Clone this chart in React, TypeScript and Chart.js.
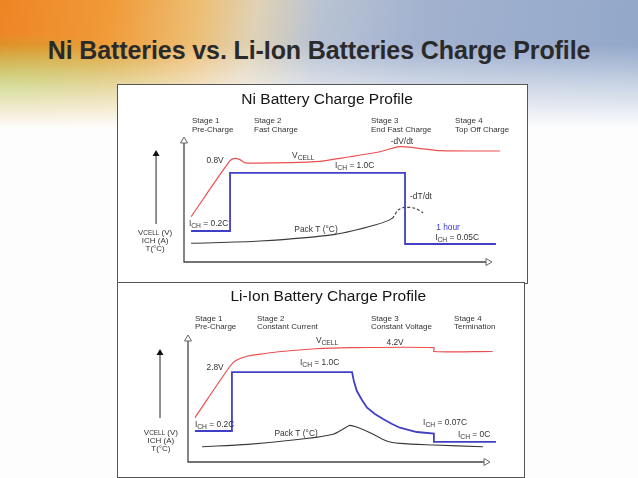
import React, { useEffect, useRef } from "react";
import { Chart, registerables } from "chart.js";

Chart.register(...registerables);

const FONT = '"Liberation Sans", Arial, Helvetica, sans-serif';

// ---------- data (x: charge time in % of axis length, y: level in % of axis height) ----------
// Ni battery
const niVcellX = [2.3, 15.0, 16.6, 18.2, 19.9, 24.8, 42.7, 54.1, 63.8, 67.8, 70.4, 75.9, 83.4, 102.9];
const niVcellY = [36.5, 81.7, 83.6, 82.6, 80.0, 79.8, 80.9, 84.9, 88.9, 91.7, 93.0, 91.9, 89.8, 89.5];
const niIchX = [2.3, 15.0, 15.0, 72.0, 72.0, 101.6];
const niIchY = [25.0, 25.0, 71.8, 71.8, 14.5, 14.5];
const niTempX = [2.3, 24.8, 49.2, 62.2, 67.8, 69.7, 72.0, 75.2, 77.9];
const niTempY = [15.1, 16.9, 22.3, 29.8, 35.2, 41.9, 44.1, 43.3, 39.8];
const niStageNames = ["Stage 1", "Stage 2", "Stage 3", "Stage 4"];
const niStageDesc = ["Pre-Charge", "Fast Charge", "End Fast Charge", "Top Off Charge"];
const niStageStart = [2.6, 22.8, 60.9, 88.3];

// Li-Ion battery
const liVcellX = [2.3, 14.0, 15.9, 19.9, 25.6, 31.2, 42.2, 53.8, 81.7, 81.7, 101.2];
const liVcellY = [35.2, 76.2, 80.6, 84.1, 86.1, 87.7, 89.9, 90.7, 90.7, 87.7, 87.7];
const liIchX = [2.3, 14.6, 14.6, 54.5, 55.1, 56.1, 57.8, 59.5, 62.1, 64.8, 67.8, 70.4, 76.0, 81.7, 81.7, 102.3];
const liIchY = [24.6, 24.6, 71.4, 71.4, 64.3, 56.3, 49.2, 43.1, 38.1, 34.1, 30.2, 27.2, 23.8, 22.6, 15.9, 15.9];
const liTempX = [4.7, 19.9, 37.2, 48.2, 52.7, 53.8, 56.0, 60.5, 66.0, 70.4, 81.4, 98.0];
const liTempY = [12.1, 14.0, 18.0, 22.0, 27.8, 29.1, 27.8, 23.3, 16.7, 14.8, 13.5, 12.1];
const liStageNames = ["Stage 1", "Stage 2", "Stage 3", "Stage 4"];
const liStageDesc = ["Pre-Charge", "Constant Current", "Constant Voltage", "Termination"];
const liStageStart = [2.3, 22.9, 60.8, 88.4];

const RED = "#ec4f4f";
const BLUE = "#4040c6";
const DARK = "#3a3a3a";
const TEXT = "#333333";

type Ann = {
  text: string;
  x: number;
  y: number;
  align?: CanvasTextAlign;
  size?: number;
  color?: string;
  subDrop?: number;
};

type Spec = {
  title: string;
  vx: number[];
  vy: number[];
  ix: number[];
  iy: number[];
  tx: number[];
  ty: number[];
  tempDashFrom: number;
  stageNames: string[];
  stageDesc: string[];
  stageStart: number[];
  anns: Ann[];
  arrowX: number;
  arrowY0: number;
  arrowY1: number;
  padding: { left: number; top: number; right: number; bottom: number };
  width: number;
  height: number;
};

const niSpec: Spec = {
  title: "Ni Battery Charge Profile",
  vx: niVcellX, vy: niVcellY, ix: niIchX, iy: niIchY, tx: niTempX, ty: niTempY,
  tempDashFrom: 4,
  stageNames: niStageNames, stageDesc: niStageDesc, stageStart: niStageStart,
  anns: [
    { text: "0.8V", x: 10.1, y: 81.5, align: "center" },
    { text: "V_{CELL}", x: 35.2, y: 85.5 },
    { text: "I_{CH} = 1.0C", x: 49.2, y: 77.4 },
    { text: "-dV/dt", x: 71.0, y: 96.8, align: "center" },
    { text: "-dT/dt", x: 77.2, y: 52.4, align: "center" },
    { text: "I_{CH} = 0.2C", x: 1.6, y: 30.6 },
    { text: "Pack T (°C)", x: 43.0, y: 25.8, align: "center" },
    { text: "1 hour", x: 86.0, y: 27.4, align: "center", color: "#3b3bd0" },
    { text: "I_{CH} = 0.05C", x: 81.8, y: 19.4 },
    { text: "V_{CELL} (V)", x: -9.4, y: 23.8, align: "center", size: 8, subDrop: 0.15 },
    { text: "ICH (A)", x: -9.4, y: 17.3, align: "center", size: 8 },
    { text: "T(°C)", x: -9.4, y: 11.0, align: "center", size: 8 },
  ],
  arrowX: -9.1, arrowY0: 30.6, arrowY1: 88.7,
  padding: { left: 66, top: 53, right: 35, bottom: 20 },
  width: 408, height: 197,
};

const liSpec: Spec = {
  title: "Li-Ion Battery Charge Profile",
  vx: liVcellX, vy: liVcellY, ix: liIchX, iy: liIchY, tx: liTempX, ty: liTempY,
  tempDashFrom: 999,
  stageNames: liStageNames, stageDesc: liStageDesc, stageStart: liStageStart,
  anns: [
    { text: "2.8V", x: 9.0, y: 74.6, align: "center" },
    { text: "V_{CELL}", x: 42.5, y: 96.0 },
    { text: "4.2V", x: 68.8, y: 94.4, align: "center" },
    { text: "I_{CH} = 1.0C", x: 37.2, y: 78.6 },
    { text: "I_{CH} = 0.2C", x: 2.3, y: 29.4 },
    { text: "Pack T (°C)", x: 35.9, y: 22.2, align: "center" },
    { text: "I_{CH} = 0.07C", x: 78.1, y: 31.0 },
    { text: "I_{CH} = 0C", x: 89.7, y: 21.4 },
    { text: "V_{CELL} (V)", x: -9.0, y: 23.4, align: "center", size: 8, subDrop: 0.15 },
    { text: "ICH (A)", x: -9.0, y: 16.9, align: "center", size: 8 },
    { text: "T(°C)", x: -9.0, y: 10.3, align: "center", size: 8 },
  ],
  arrowX: -9.3, arrowY0: 34.9, arrowY1: 88.1,
  padding: { left: 70, top: 53, right: 35, bottom: 15 },
  width: 406, height: 194,
};

function zip(xs: number[], ys: number[]) {
  return xs.map((x, i) => ({ x, y: ys[i] }));
}

function drawRich(
  ctx: CanvasRenderingContext2D,
  text: string,
  x: number,
  y: number,
  size: number,
  align: CanvasTextAlign,
  color: string,
  subDrop = 0.3
) {
  const parts: { t: string; sub: boolean }[] = [];
  const re = /_\{([^}]*)\}/g;
  let last = 0;
  let m: RegExpExecArray | null;
  while ((m = re.exec(text))) {
    if (m.index > last) parts.push({ t: text.slice(last, m.index), sub: false });
    parts.push({ t: m[1], sub: true });
    last = m.index + m[0].length;
  }
  if (last < text.length) parts.push({ t: text.slice(last), sub: false });
  const subSize = size * 0.8;
  const fontFor = (sub: boolean) => `${sub ? subSize : size}px ${FONT}`;
  let total = 0;
  for (const p of parts) {
    ctx.font = fontFor(p.sub);
    total += ctx.measureText(p.t).width;
  }
  let cx = x;
  if (align === "center") cx = x - total / 2;
  else if (align === "right") cx = x - total;
  ctx.fillStyle = color;
  ctx.textBaseline = "middle";
  ctx.textAlign = "left";
  for (const p of parts) {
    ctx.font = fontFor(p.sub);
    ctx.fillText(p.t, cx, p.sub ? y + size * subDrop : y);
    cx += ctx.measureText(p.t).width;
  }
}

function schematicPlugin(spec: Spec) {
  return {
    id: "schematic",
    beforeDatasetsDraw(chart: any) {
      const ctx: CanvasRenderingContext2D = chart.ctx;
      const xs = chart.scales.x;
      const ys = chart.scales.y;
      const x0 = xs.getPixelForValue(0);
      const x1 = xs.getPixelForValue(100);
      const y0 = ys.getPixelForValue(0);
      const y1 = ys.getPixelForValue(100);
      ctx.save();
      ctx.strokeStyle = "#444";
      ctx.lineWidth = 1.3;
      ctx.beginPath();
      ctx.moveTo(x0, y1 + 1);
      ctx.lineTo(x0, y0);
      ctx.lineTo(x1 - 1, y0);
      ctx.stroke();
      ctx.lineWidth = 1;
      ctx.strokeStyle = "#666";
      ctx.fillStyle = "#fff";
      ctx.beginPath();
      ctx.moveTo(x0, y1 - 1);
      ctx.lineTo(x0 - 3.5, y1 + 5);
      ctx.lineTo(x0 + 3.5, y1 + 5);
      ctx.closePath();
      ctx.fill();
      ctx.stroke();
      ctx.beginPath();
      ctx.moveTo(x1 + 1, y0);
      ctx.lineTo(x1 - 5, y0 - 3.5);
      ctx.lineTo(x1 - 5, y0 + 3.5);
      ctx.closePath();
      ctx.fill();
      ctx.stroke();
      const ax = xs.getPixelForValue(spec.arrowX);
      const ay0 = ys.getPixelForValue(spec.arrowY0);
      const ay1 = ys.getPixelForValue(spec.arrowY1);
      ctx.strokeStyle = "#555";
      ctx.lineWidth = 1.3;
      ctx.beginPath();
      ctx.moveTo(ax, ay0);
      ctx.lineTo(ax, ay1 + 3);
      ctx.stroke();
      ctx.fillStyle = "#111";
      ctx.beginPath();
      ctx.moveTo(ax, ay1 - 2);
      ctx.lineTo(ax - 3.5, ay1 + 4);
      ctx.lineTo(ax + 3.5, ay1 + 4);
      ctx.closePath();
      ctx.fill();
      ctx.restore();
    },
    afterDatasetsDraw(chart: any) {
      const ctx: CanvasRenderingContext2D = chart.ctx;
      const xs = chart.scales.x;
      const ys = chart.scales.y;
      ctx.save();
      ctx.font = `15.5px ${FONT}`;
      ctx.fillStyle = "#151515";
      ctx.textAlign = "center";
      ctx.textBaseline = "middle";
      ctx.fillText(spec.title, xs.getPixelForValue(46.6), ys.getPixelForValue(130.8));
      spec.stageNames.forEach((name, i) => {
        const px = xs.getPixelForValue(spec.stageStart[i]);
        drawRich(ctx, name, px, ys.getPixelForValue(114), 8, "left", TEXT);
        drawRich(ctx, spec.stageDesc[i], px, ys.getPixelForValue(107), 8, "left", TEXT);
      });
      for (const a of spec.anns) {
        drawRich(
          ctx,
          a.text,
          xs.getPixelForValue(a.x),
          ys.getPixelForValue(a.y),
          a.size ?? 8.4,
          a.align ?? "left",
          a.color ?? TEXT,
          a.subDrop ?? 0.3
        );
      }
      ctx.restore();
    },
  };
}

function ProfileChart({ spec, left, top }: { spec: Spec; left: number; top: number }) {
  const ref = useRef<HTMLCanvasElement | null>(null);
  useEffect(() => {
    if (!ref.current) return;
    const dash = spec.tempDashFrom;
    const chart = new Chart(ref.current, {
      type: "line",
      data: {
        datasets: [
          {
            label: "VCELL",
            data: zip(spec.vx, spec.vy),
            borderColor: RED,
            borderWidth: 1.2,
            tension: 0.3,
            clip: false,
          } as any,
          {
            label: "ICH",
            data: zip(spec.ix, spec.iy),
            borderColor: BLUE,
            borderWidth: 1.8,
            tension: 0,
            clip: false,
          } as any,
          {
            label: "Pack T",
            data: zip(spec.tx, spec.ty),
            borderColor: DARK,
            borderWidth: 1.1,
            tension: 0.3,
            clip: false,
            segment: {
              borderDash: (c: any) => (c.p0DataIndex >= dash ? [3, 2] : undefined),
            },
          } as any,
        ],
      },
      options: {
        responsive: false,
        animation: false,
        devicePixelRatio: 1,
        events: [],
        layout: { padding: spec.padding },
        elements: {
          point: { radius: 0 },
          line: { capBezierPoints: false, fill: false },
        },
        plugins: {
          legend: { display: false },
          tooltip: { enabled: false },
          title: { display: false },
        },
        scales: {
          x: { type: "linear", min: 0, max: 100, display: false },
          y: { type: "linear", min: 0, max: 100, display: false },
        },
      },
      plugins: [schematicPlugin(spec)],
    });
    return () => chart.destroy();
  }, [spec]);
  return (
    <canvas
      ref={ref}
      width={spec.width}
      height={spec.height}
      style={{ position: "absolute", left, top, width: spec.width, height: spec.height }}
    />
  );
}

export default function App() {
  return (
    <div
      style={{
        position: "fixed",
        left: 0,
        top: 0,
        width: 638,
        height: 478,
        overflow: "hidden",
        background: "#fdfdfd",
        fontFamily: FONT,
      }}
    >
      <div
        style={{
          position: "absolute",
          left: 0,
          top: 0,
          width: 638,
          height: 130,
          background:
            "linear-gradient(to bottom, rgba(253,253,253,0) 0px, rgba(253,253,253,0) 45px, rgba(253,253,253,0.55) 88px, rgba(253,253,253,1) 128px)," +
            "radial-gradient(ellipse 210px 55px at 0px 88px, rgba(160,195,50,0.9), rgba(175,205,70,0) 100%)," +
            "linear-gradient(100deg, #ee8424 0px, #f09a38 110px, #ecbf76 200px, #dfd2b6 255px, #b8c2d3 320px, #a2b2cf 420px, #93a8ca 638px)",
        }}
      />
      <div
        style={{
          position: "absolute",
          left: 0,
          width: 638,
          top: 35,
          textAlign: "center",
          fontSize: 25,
          fontWeight: "bold",
          lineHeight: "30px",
          color: "#2a2a2a",
          whiteSpace: "nowrap",
          letterSpacing: "-0.1px",
        }}
      >
        Ni Batteries vs. Li-Ion Batteries Charge Profile
      </div>
      <div
        style={{
          position: "absolute",
          left: 117,
          top: 84,
          width: 411,
          height: 200,
          boxSizing: "border-box",
          border: "1.5px solid #555",
          background: "#fff",
        }}
      />
      <div
        style={{
          position: "absolute",
          left: 117,
          top: 282,
          width: 408,
          height: 196,
          boxSizing: "border-box",
          border: "1.5px solid #555",
          background: "#fff",
        }}
      />
      <ProfileChart spec={niSpec} left={118} top={85} />
      <ProfileChart spec={liSpec} left={118} top={283} />
    </div>
  );
}
